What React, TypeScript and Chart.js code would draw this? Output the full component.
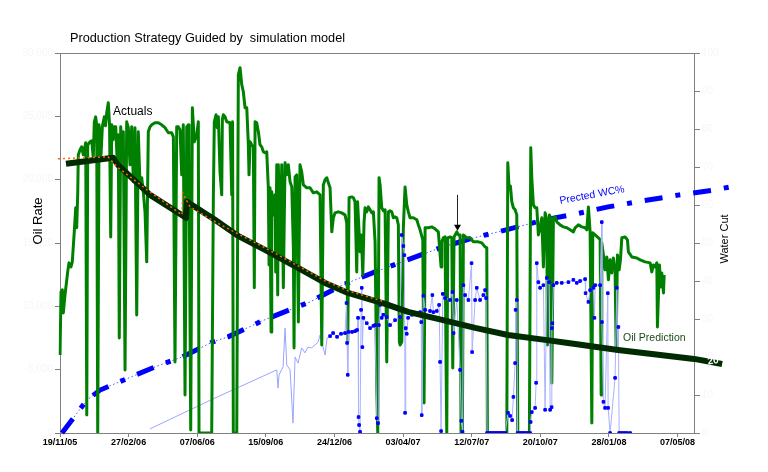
import React, { useEffect, useRef } from 'react';
import { Chart, registerables } from 'chart.js';

Chart.register(...registerables);

const FONT = "Arial, 'Liberation Sans', Helvetica, sans-serif";
const TITLE = 'Production Strategy Guided by  simulation model';

// x axis: days since 19/11/05
const tickDays = [0, 100, 200, 300, 400, 500, 600, 700, 800, 900];
const tickLabels = ['19/11/05', '27/02/06', '07/06/06', '15/09/06', '24/12/06', '03/04/07', '12/07/07', '20/10/07', '28/01/08', '07/05/08'];
const X_MAX = 924;

// Actual oil rate
const actualDays = [
  0, 1.5, 3.4, 4.8, 7.3, 11.2, 13.1, 16.0, 17.9, 20.8,
  22.9, 24.3, 25.8, 26.7, 29.2, 31.6, 34.0, 35.4, 37.5, 39.0,
  40.4, 43.7, 46.2, 48.5, 50.0, 52.0, 53.5, 55.0, 56.9, 59.8,
  61.7, 64.6, 66.3, 68.1, 70.4, 72.2, 73.9, 75.4, 77.3, 79.2,
  81.2, 83.1, 85.0, 86.4, 88.5, 90.4, 92.3, 94.8, 97.2, 99.6,
  102.0, 104.5, 106.9, 109.3, 111.8, 114.1, 116.6, 119.1, 121.4, 123.9,
  126.4, 128.7, 131.2, 133.7, 138.5, 143.3, 148.2, 153.1, 157.9, 162.8,
  165.2, 167.6, 170.1, 172.4, 174.9, 177.4, 179.7, 182.2, 184.7, 187.0,
  188.0, 190.5, 192.9, 195.8, 199.3, 201.6, 202.6, 221.1, 223.5, 224.9,
  227.4, 229.3, 230.8, 233.2, 235.7, 236.6, 238.0, 240.5, 243.0, 247.8,
  250.3, 251.5, 252.6, 257.6, 259.9, 262.4, 264.9, 267.2, 269.7, 272.2,
  274.5, 275.5, 277.0, 279.4, 281.8, 283.2, 284.3, 286.7, 289.1, 291.5,
  294.0, 296.4, 298.8, 301.3, 303.6, 304.7, 306.1, 307.6, 308.6, 310.9,
  313.4, 314.4, 315.9, 317.3, 318.2, 320.7, 323.2, 325.5, 328.0, 330.5,
  332.8, 335.3, 337.8, 340.1, 341.1, 342.6, 345.0, 347.4, 349.8, 352.3,
  354.7, 359.6, 364.4, 369.2, 374.2, 379.0, 381.5, 383.8, 386.3, 388.8,
  391.1, 393.6, 396.1, 398.4, 400.9, 405.7, 410.6, 415.4, 417.9, 419.4,
  421.3, 425.2, 427.6, 430.0, 432.5, 433.7, 437.3, 439.2, 441.3, 443.1,
  444.6, 447.1, 449.4, 451.9, 454.4, 456.7, 459.2, 461.7, 463.1, 465.0,
  466.5, 468.9, 471.3, 473.8, 476.2, 478.6, 481.0, 483.5, 485.9, 488.3,
  490.8, 493.1, 494.6, 495.6, 498.1, 500.4, 502.9, 505.4, 507.7, 510.2,
  515.0, 520.0, 522.3, 524.8, 528.7, 530.6, 532.1, 536.9, 541.8, 546.6,
  551.4, 555.4, 556.4, 558.7, 561.2, 562.7, 563.7, 565.1, 568.5, 571.0,
  572.4, 574.3, 578.3, 580.6, 583.1, 584.5, 586.4, 587.9, 592.8, 597.7,
  602.5, 609.7, 614.7, 619.5, 622.0, 622.9, 651.2, 652.6, 654.5, 656.4,
  658.5, 660.8, 663.3, 665.7, 667.2, 684.1, 686.1, 687.6, 689.9, 692.4,
  694.9, 697.2, 699.7, 702.2, 704.5, 707.0, 709.5, 710.3, 713.3, 715.7,
  716.8, 719.1, 721.6, 724.0, 728.8, 733.7, 738.6, 743.4, 748.2, 750.7,
  755.5, 760.5, 765.3, 767.8, 770.1, 772.6, 775.1, 776.5, 779.9, 784.7,
  787.2, 788.7, 789.6, 792.0, 794.4, 796.9, 799.3, 801.7, 804.2, 806.5,
  809.0, 810.5, 812.4, 814.9, 816.8, 818.8, 823.6, 827.0, 828.4, 833.4,
  840.7, 845.5, 852.8, 860.1, 862.5, 864.9, 867.4, 869.8, 870.7, 873.6,
  875.7, 877.1, 879.5, 880.5,
];
const actualOil = [
  6160, 11140, 11300, 9480, 10900, 12720, 13430, 13110, 13510, 15880,
  17780, 16200, 18800, 21960, 22360, 22590, 21960, 22360, 22910, 1420,
  22750, 22990, 23070, 21730, 24570, 24960, 24330, 0, 24330, 21960,
  24170, 24960, 24250, 25280, 26070, 24330, 15480, 24330, 23150, 24170,
  24170, 21800, 23540, 7500, 24170, 21960, 23780, 4980, 24570, 24100,
  21170, 24170, 19830, 24100, 9320, 23780, 19590, 20150, 19040, 17460,
  13510, 23780, 24170, 24330, 24490, 24490, 24330, 24100, 23700, 23700,
  23380, 5610, 24170, 24170, 23940, 20380, 24330, 3000, 24170, 24330,
  21960, 240, 25680, 22990, 23540, 24570, 0, 0, 18570, 24570,
  25120, 24100, 24960, 20620, 18800, 24730, 25120, 24960, 24570, 24490,
  18800, 24570, 0, 0, 28280, 28840, 27490, 26940, 25680, 25680,
  22750, 20380, 22990, 22750, 22590, 11460, 24570, 24490, 23780, 22750,
  22590, 22200, 22120, 22200, 19360, 13270, 19360, 7980, 19040, 17220,
  18800, 12720, 21170, 10900, 21170, 14060, 21170, 11460, 21330, 20380,
  21170, 19830, 19430, 14620, 6720, 20220, 20380, 8770, 21170, 20620,
  19590, 19360, 19360, 18960, 19040, 18800, 6950, 19590, 19990, 20150,
  19750, 19360, 15880, 16990, 17380, 17460, 17380, 17220, 16590, 7190,
  18570, 18640, 18570, 18250, 12720, 18250, 14300, 15640, 12480, 16590,
  17780, 17460, 17850, 17620, 17380, 17460, 15090, 3550, 0, 20150,
  19590, 17780, 17540, 17620, 5610, 17460, 17540, 17460, 16990, 17060,
  16990, 16430, 7190, 6950, 7190, 16200, 19430, 18010, 17460, 16990,
  16990, 16830, 16430, 16040, 15250, 2370, 16200, 16200, 16270, 16120,
  15880, 13110, 15090, 15410, 15480, 5140, 0, 15410, 15480, 15410,
  5140, 15480, 15880, 15640, 15640, 0, 0, 15640, 15410, 15410,
  15090, 15090, 15010, 14690, 14620, 0, 0, 21330, 19360, 19510,
  18250, 17780, 17620, 17220, 0, 0, 22520, 20150, 18010, 17780,
  17780, 15640, 16200, 16990, 13110, 17380, 16830, 6950, 17220, 16830,
  3950, 16990, 17060, 16670, 16430, 16270, 16200, 16040, 15880, 16200,
  16430, 16270, 16200, 16040, 17850, 15880, 790, 15800, 15640, 15410,
  15250, 3000, 15010, 14060, 12880, 13900, 12090, 13670, 12640, 13820,
  12880, 6720, 14060, 12880, 13670, 15410, 15480, 15250, 14300, 13900,
  13820, 13670, 13510, 13430, 12720, 13270, 13110, 13430, 8370, 13270,
  11530, 12640, 11060, 12480,
];

// Oil prediction (simulation)
const predDays = [8.7, 77.3, 84.5, 131.2, 183.7, 185.1, 225.9, 259.5, 298.8, 346.9, 386.3, 419.8, 473.8, 507.3, 556.8, 605.0, 653.0, 707.0, 740.5, 813.4, 924.2, 965.0];
const predOil = [21250, 21730, 21170, 18800, 16990, 18250, 16830, 15560, 14460, 13040, 11850, 11060, 10190, 9560, 8930, 8300, 7740, 7350, 7110, 6560, 5850, 5450];

// History-match oil (dotted orange)
const histDays = [-2.9, 70.0, 83.1, 126.8, 177.8, 178.6, 189.5, 228.9, 259.5, 298.8, 346.9, 386.3, 419.8, 473.8];
const histOil = [21650, 21800, 21010, 19200, 17220, 18960, 17850, 16590, 15720, 14620, 13190, 12010, 11220, 10350];

// Predicted water cut (%)
const wcPredDays = [2.9, 39.4, 58.3, 83.1, 138.5, 177.8, 221.6, 244.9, 294.5, 316.3, 364.4, 411.1, 459.2, 502.9, 556.8, 602.0, 648.7, 707.0, 750.7, 798.8, 849.8, 900.9, 951.9, 975.2];
const wcPred = [0, 8.7, 11.3, 13.2, 17.4, 20.0, 23.9, 25.3, 29.5, 31.1, 34.5, 38.9, 42.4, 45.3, 48.9, 51.3, 53.4, 56.1, 57.6, 59.5, 61.1, 62.6, 63.9, 64.7];

// Early measured water cut (%)
const wcEarlyDays = [131.2, 225.9, 315.9, 317.8, 319.2, 325.1, 328.0, 330.5, 335.3, 339.6, 342.6, 346.9, 352.3, 357.1, 361.5, 366.9, 371.7, 376.1, 379.0, 381.9, 386.3, 389.2, 393.6];
const wcEarly = [1.1, 9.2, 16.6, 11.8, 15.3, 17.4, 27.6, 17.9, 16.6, 2.6, 20.0, 18.4, 22.4, 21.1, 22.6, 22.4, 23.2, 23.9, 25.8, 23.7, 20.5, 25.0, 25.5];

// Measured water cut (%) with markers
const wcActDays = [
  393.6, 398.0, 403.8, 409.6, 415.4, 417.6, 418.4, 419.4, 420.5, 425.6,
  430.0, 432.9, 434.4, 435.1, 435.9, 437.3, 438.8, 439.8, 440.7, 442.1,
  447.1, 451.9, 456.7, 459.2, 461.7, 463.5, 464.7, 466.5, 468.9, 471.3,
  476.2, 481.0, 488.3, 495.6, 498.1, 500.4, 501.9, 502.9, 503.9, 505.4,
  507.3, 513.1, 517.5, 524.8, 526.5, 527.2, 529.6, 532.1, 539.3, 542.7,
  544.2, 549.1, 552.5, 553.9, 555.4, 557.9, 561.2, 568.5, 572.1, 573.6,
  578.3, 583.1, 584.8, 586.7, 587.9, 590.4, 595.2, 599.8, 600.6, 605.0,
  607.4, 612.2, 617.0, 619.5, 621.0, 622.4, 625.3, 628.2, 631.1, 634.1,
  637.0, 639.9, 642.8, 645.8, 648.7, 653.0, 656.0, 658.9, 660.8, 663.3,
  664.0, 665.7, 666.9, 669.8, 672.7, 675.6, 678.6, 681.5, 685.1, 685.9,
  687.6, 692.4, 693.9, 694.9, 697.2, 699.7, 704.5, 707.0, 709.5, 712.8,
  714.3, 716.5, 716.8, 717.6, 719.1, 724.0, 731.3, 741.0, 748.2, 753.2,
  758.0, 765.3, 766.0, 770.1, 772.6, 777.4, 778.9, 779.9, 787.2, 789.6,
  789.8, 792.0, 794.4, 798.4, 798.8, 801.7, 809.0, 811.5, 813.0, 813.8,
  814.9, 817.8, 820.7, 823.6, 826.6, 830.9,
];
const wcAct = [
  25.5, 26.3, 25.3, 26.1, 26.3, 34.2, 23.7, 15.3, 26.6, 26.6,
  26.8, 27.1, 30.3, 4.2, 2.1, 0.3, 32.4, 38.2, 22.6, 30.3,
  28.9, 27.6, 28.2, 28.4, 3.9, 2.6, 28.4, 33.7, 30.3, 31.1,
  30.5, 28.4, 29.7, 30.5, 52.1, 49.2, 46.8, 5.3, 27.6, 26.1,
  30.3, 31.1, 31.6, 31.8, 29.2, 4.7, 36.1, 32.4, 32.1, 36.3,
  31.8, 32.1, 33.7, 18.7, 0.5, 36.6, 35.5, 35.0, 37.1, 26.3,
  35.0, 16.6, 3.2, 0.3, 38.9, 36.3, 35.0, 44.7, 21.3, 35.0,
  38.2, 35.0, 36.3, 37.6, 35.5, 0, 0, 0, 0, 0,
  0, 0, 0, 0, 0, 5.3, 4.5, 3.4, 9.5, 18.4,
  32.4, 35.0, 0, 0, 0, 0, 0, 0, 0, 2.9,
  5.5, 6.6, 13.2, 44.7, 39.7, 38.2, 38.9, 6.1, 40.8, 39.7,
  6.1, 6.8, 27.6, 28.9, 38.9, 39.5, 39.5, 39.7, 40.3, 39.5,
  40.0, 40.5, 36.8, 34.5, 37.6, 38.2, 30.3, 38.9, 38.9, 55.5,
  29.2, 8.2, 6.6, 36.8, 6.6, 0, 14.5, 38.2, 21.8, 27.9,
  0, 0, 0, 0, 0, 0,
];

// Annotation anchors (data units)
const actualsLabel = { day: 77.3, oil: 25360 };
const predLabel = { day: 820.7, oil: 7500 };
const wcLabel = { day: 775.5, wc: 62.6 };
const twentyLabel = { day: 952, oil: 5690 };
const arrowMark = { day: 578.7, oilTop: 18800, oilBottom: 15960 };

const pts = (xs: number[], ys: number[]) => xs.map((x, i) => ({ x, y: ys[i] }));

const annotationPlugin = {
  id: 'annotations',
  afterDraw(chart: any) {
    const { ctx, chartArea: a, scales } = chart;
    const sx = scales.x, sy = scales.y, sy2 = scales.y2;
    ctx.save();
    // top frame line
    ctx.strokeStyle = '#808080';
    ctx.lineWidth = 1;
    ctx.beginPath();
    ctx.moveTo(a.left, a.top + 0.5);
    ctx.lineTo(a.right, a.top + 0.5);
    ctx.stroke();

    ctx.textBaseline = 'middle';
    // title
    ctx.fillStyle = '#000';
    ctx.textAlign = 'left';
    ctx.font = `12.7px ${FONT}`;
    ctx.fillText(TITLE, a.left + 10, 38);

    // axis titles
    ctx.save();
    ctx.translate(38, 221);
    ctx.rotate(-Math.PI / 2);
    ctx.textAlign = 'center';
    ctx.font = `13px ${FONT}`;
    ctx.fillText('Oil Rate', 0, 0);
    ctx.restore();

    ctx.save();
    ctx.translate(a.right + 31, 239);
    ctx.rotate(-Math.PI / 2);
    ctx.textAlign = 'center';
    ctx.font = `11px ${FONT}`;
    ctx.fillText('Water Cut', 0, 0);
    ctx.restore();

    // Actuals label
    ctx.textAlign = 'left';
    ctx.font = `12px ${FONT}`;
    ctx.fillStyle = '#000';
    ctx.fillText('Actuals', sx.getPixelForValue(actualsLabel.day), sy.getPixelForValue(actualsLabel.oil));

    // Oil Prediction label
    ctx.font = `10.5px ${FONT}`;
    ctx.fillStyle = '#1a4a1a';
    ctx.fillText('Oil Prediction', sx.getPixelForValue(predLabel.day), sy.getPixelForValue(predLabel.oil));

    // Predicted WC label
    ctx.save();
    ctx.translate(sx.getPixelForValue(wcLabel.day), sy2.getPixelForValue(wcLabel.wc));
    ctx.rotate(-10.5 * Math.PI / 180);
    ctx.textAlign = 'center';
    ctx.font = `10.5px ${FONT}`;
    ctx.fillStyle = '#0000ff';
    ctx.fillText('Prected WC%', 0, 0);
    ctx.restore();

    // "20" on the prediction line end
    ctx.save();
    ctx.translate(sx.getPixelForValue(twentyLabel.day), sy.getPixelForValue(twentyLabel.oil));
    ctx.rotate(-8 * Math.PI / 180);
    ctx.textAlign = 'center';
    ctx.font = `bold 10px ${FONT}`;
    ctx.fillStyle = '#ffffff';
    ctx.fillText('20', 0, 0);
    ctx.restore();

    // arrow
    const ax = Math.round(sx.getPixelForValue(arrowMark.day)) + 0.5;
    const ay1 = sy.getPixelForValue(arrowMark.oilTop);
    const ay2 = sy.getPixelForValue(arrowMark.oilBottom);
    ctx.strokeStyle = '#222';
    ctx.lineWidth = 1;
    ctx.beginPath();
    ctx.moveTo(ax, ay1);
    ctx.lineTo(ax, ay2 - 5);
    ctx.stroke();
    ctx.fillStyle = '#000';
    ctx.beginPath();
    ctx.moveTo(ax - 3.5, ay2 - 6);
    ctx.lineTo(ax + 3.5, ay2 - 6);
    ctx.lineTo(ax, ay2);
    ctx.closePath();
    ctx.fill();
    ctx.restore();
  },
};

export default function App() {
  const ref = useRef<HTMLCanvasElement>(null);
  useEffect(() => {
    const canvas = ref.current;
    if (!canvas) return;
    const axisGray = '#808080';
    const faint = '#f6f6f6';
    const chart = new Chart(canvas, {
      type: 'line',
      data: {
        datasets: [
          {
            label: 'History match',
            data: pts(histDays, histOil),
            yAxisID: 'y',
            borderColor: '#ff6a00',
            borderWidth: 1.5,
            borderDash: [2, 3],
            pointRadius: 0,
            tension: 0,
            clip: false,
          },
          {
            label: 'Oil Prediction',
            data: pts(predDays, predOil),
            yAxisID: 'y',
            borderColor: '#002b00',
            borderWidth: 6,
            borderJoinStyle: 'round',
            pointRadius: 0,
            tension: 0,
            clip: false,
          },
          {
            label: 'Water Cut',
            data: pts(wcActDays, wcAct),
            yAxisID: 'y2',
            borderColor: '#aab2ff',
            borderWidth: 1,
            pointStyle: 'rect',
            pointRadius: 1.8,
            pointBorderWidth: 1,
            pointBackgroundColor: '#0000ff',
            pointBorderColor: '#0000ff',
            tension: 0,
          },
          {
            label: 'Actuals',
            data: pts(actualDays, actualOil),
            yAxisID: 'y',
            borderColor: '#008000',
            borderWidth: 3,
            borderJoinStyle: 'round',
            pointRadius: 0,
            tension: 0,
          },
          {
            label: 'Prected WC%',
            data: pts(wcPredDays, wcPred),
            yAxisID: 'y2',
            borderColor: '#0000ff',
            borderWidth: 5,
            borderDash: [18, 13, 5, 13],
            borderCapStyle: 'butt',
            pointRadius: 0,
            tension: 0,
            clip: false,
          },
          {
            label: 'WC fit',
            data: pts(wcPredDays.slice(0, 18), wcPred.slice(0, 18)),
            yAxisID: 'y2',
            borderColor: '#3a5cff',
            borderWidth: 1,
            borderDash: [1.5, 2.5],
            pointRadius: 0,
            tension: 0,
          },
          {
            label: 'WC early',
            data: pts(wcEarlyDays, wcEarly),
            yAxisID: 'y2',
            borderColor: '#9aa4ff',
            borderWidth: 1,
            pointRadius: 0,
            tension: 0,
          },
        ],
      },
      options: {
        responsive: false,
        animation: false,
        devicePixelRatio: 1,
        layout: { padding: { top: 53, left: 0, right: 0, bottom: 0 } },
        plugins: {
          legend: { display: false },
          tooltip: { enabled: false },
          title: { display: false },
        },
        scales: {
          x: {
            type: 'linear',
            bounds: 'data',
            afterDataLimits: (s: any) => { s.min = 0; s.max = X_MAX; },
            afterBuildTicks: (s: any) => { s.ticks = tickDays.map((v) => ({ value: v })); },
            afterFit: (s: any) => { s.height = 39; },
            grid: { drawOnChartArea: false, drawTicks: true, tickLength: 4, color: axisGray },
            border: { display: true, color: axisGray, width: 1 },
            ticks: {
              autoSkip: false,
              maxRotation: 0,
              padding: 0,
              color: '#000',
              font: { family: FONT, size: 9, weight: 'bold' },
              callback: (v: any) => {
                const i = tickDays.indexOf(Number(v));
                return i >= 0 ? tickLabels[i] : '';
              },
            },
          },
          y: {
            position: 'left',
            min: 0,
            max: 30000,
            afterFit: (s: any) => { s.width = 60; },
            grid: { drawOnChartArea: false, tickLength: 5, color: axisGray },
            border: { display: true, color: axisGray, width: 1 },
            ticks: { stepSize: 5000, color: faint, padding: 2, font: { family: FONT, size: 10 } },
          },
          y2: {
            position: 'right',
            min: 0,
            max: 100,
            afterFit: (s: any) => { s.width = 74; },
            grid: { drawOnChartArea: false, tickLength: 6, color: axisGray },
            border: { display: true, color: axisGray, width: 1 },
            ticks: { stepSize: 10, color: faint, padding: 2, font: { family: FONT, size: 10 } },
          },
        },
      } as any,
      plugins: [annotationPlugin],
    });
    return () => chart.destroy();
  }, []);
  return (
    <div style={{ position: 'fixed', left: 0, top: 0, width: 768, height: 472, background: '#ffffff' }}>
      <canvas ref={ref} width={768} height={472} style={{ display: 'block', width: 768, height: 472 }} />
    </div>
  );
}
